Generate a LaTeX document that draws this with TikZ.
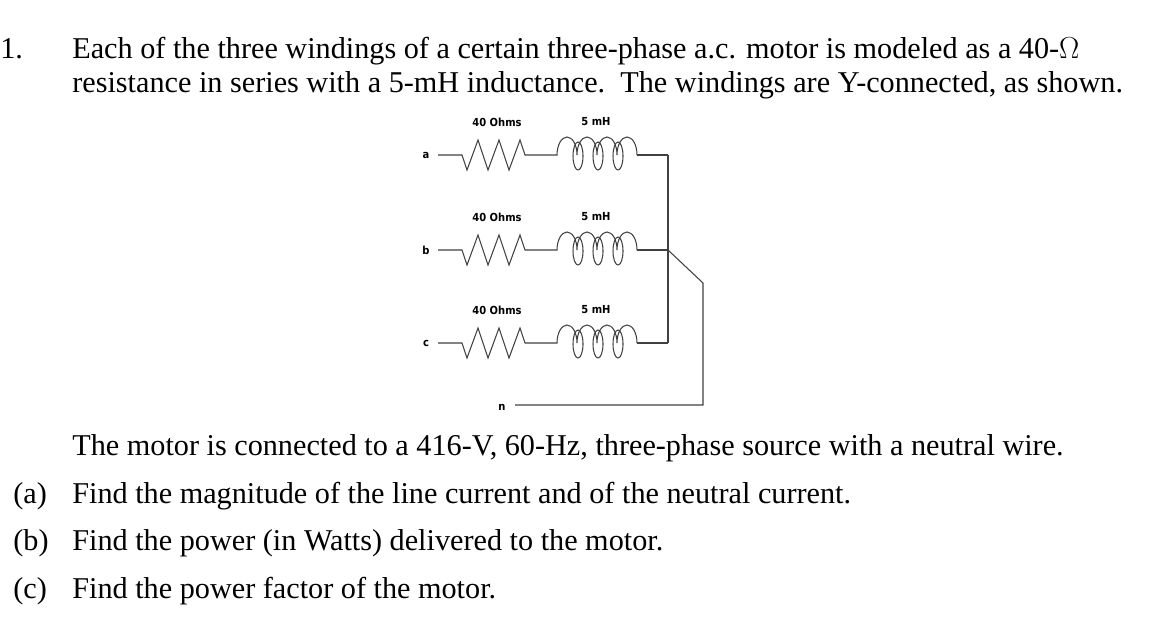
\documentclass[tikz,border=0pt]{standalone}
\usepackage{fontspec}
\setmainfont{Liberation Serif}
\newfontfamily\lblfont{DejaVu Sans Condensed}
\begin{document}
\begin{tikzpicture}[x=0.02cm,y=-0.02cm,
  txt/.style={anchor=base west,inner sep=0,font=\fontsize{17.2}{20}\selectfont},
  lbl/.style={inner sep=0,font=\lblfont\bfseries\fontsize{6.3}{7}\selectfont},
  wire/.style={line width=0.6pt,black!75}]
\useasboundingbox (0,0) rectangle (1151,616);
\node[txt] (n1) at (0,58) {1.};
\node[txt] (l1) at (72,58) {Each of the three windings of a certain three-phase a.c. motor is modeled as a 40-$\Omega$};
\node[txt] (l2) at (72,92) {resistance in series with a 5-mH inductance.\ \ The windings are Y-connected, as shown.};
\node[txt] (l3) at (72,455) {The motor is connected to a 416-V, 60-Hz, three-phase source with a neutral wire.};
\node[txt] (pa) at (13,503) {(a)};
\node[txt] (ta) at (72,503) {Find the magnitude of the line current and of the neutral current.};
\node[txt] (pb) at (13,550) {(b)};
\node[txt] (tb) at (72,550) {Find the power (in Watts) delivered to the motor.};
\node[txt] (pc) at (13,598) {(c)};
\node[txt] (tc) at (72,598) {Find the power factor of the motor.};
\foreach \n/\y in {a/155,b/250,c/343}{
  \node[lbl] (\n) at (426,\y) {\n};
  \node[lbl] (r\n) at (497,\y-33) {40 Ohms};
  \node[lbl] (i\n) at (596,\y-33) {5 mH};
  \coordinate (s\n) at (438,\y);
  \coordinate (e\n) at (668,\y);
  \draw[wire] (s\n) -- (462,\y) -- (467,\y+15) -- (478,\y-15) -- (488,\y+15) -- (499,\y-15) -- (509,\y+15) -- (520,\y-15) -- (525,\y) -- (557,\y)
    arc[start angle=180,end angle=0,x radius=10,y radius=-18]
    \foreach \k in {1,2,3}{ -- ++(0,0) arc[start angle=180,end angle=0,x radius=10,y radius=-18]} ;
  \foreach \cx in {578,598,618}{
    \draw[wire] (\cx,\y+1) ellipse[x radius=5,y radius=14];}
  \draw[wire] (637,\y) -- (e\n);
}
\draw[wire] (ea) -- (ec);
\node[lbl] (n) at (502,407) {n};
\coordinate (nn) at (515,405);
\coordinate (k1) at (703,283);
\draw[wire] (eb) -- (k1) -- (703,405) -- (nn);
\end{tikzpicture}
\end{document}
